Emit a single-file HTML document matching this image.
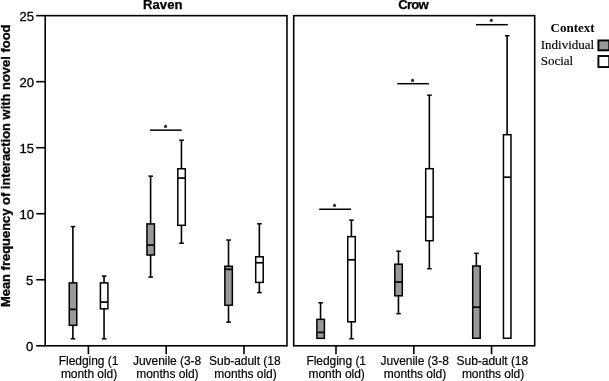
<!DOCTYPE html>
<html><head><meta charset="utf-8"><title>Figure</title>
<style>
html,body{margin:0;padding:0;background:#fff;}
svg{display:block}
text{font-family:"Liberation Sans",Arial,sans-serif;fill:#000}
.tk{font-size:12px;stroke:#000;stroke-width:0.3px}
.xl{font-size:12px;letter-spacing:-0.04px;stroke:#000;stroke-width:0.18px}
.ti{font-size:13.15px;font-weight:bold;stroke:#000;stroke-width:0.25px}
.yl{font-size:12.95px;font-weight:bold;stroke:#000;stroke-width:0.3px}
.st{font-size:8px;font-weight:bold;stroke:#000;stroke-width:0.35px}
.lt{font-family:"Liberation Serif","Times New Roman",serif;font-size:13px;font-weight:bold}
.li{font-family:"Liberation Serif","Times New Roman",serif;font-size:13px;stroke:#000;stroke-width:0.15px}
</style></head><body>
<svg width="609" height="381" viewBox="0 0 609 381">
<rect width="609" height="381" fill="#fff"/>
<rect x="45.20" y="15.66" width="241.75" height="330.12" fill="none" stroke="#000" stroke-width="1.6"/>
<rect x="293.70" y="15.66" width="241.00" height="330.12" fill="none" stroke="#000" stroke-width="1.6"/>
<line x1="36.20" y1="345.78" x2="45.20" y2="345.78" stroke="#000" stroke-width="1.6"/>
<text transform="translate(33.3,350.78) scale(1.09,1)" text-anchor="end" class="tk">0</text>
<line x1="36.20" y1="279.75" x2="45.20" y2="279.75" stroke="#000" stroke-width="1.6"/>
<text transform="translate(33.3,284.75) scale(1.09,1)" text-anchor="end" class="tk">5</text>
<line x1="36.20" y1="213.73" x2="45.20" y2="213.73" stroke="#000" stroke-width="1.6"/>
<text transform="translate(34.0,218.73) scale(1.09,1)" text-anchor="end" class="tk">10</text>
<line x1="36.20" y1="147.70" x2="45.20" y2="147.70" stroke="#000" stroke-width="1.6"/>
<text transform="translate(34.0,152.70) scale(1.09,1)" text-anchor="end" class="tk">15</text>
<line x1="36.20" y1="81.68" x2="45.20" y2="81.68" stroke="#000" stroke-width="1.6"/>
<text transform="translate(34.0,86.68) scale(1.09,1)" text-anchor="end" class="tk">20</text>
<line x1="36.20" y1="15.65" x2="45.20" y2="15.65" stroke="#000" stroke-width="1.6"/>
<text transform="translate(34.0,20.65) scale(1.09,1)" text-anchor="end" class="tk">25</text>
<line x1="88.40" y1="345.78" x2="88.40" y2="354.30" stroke="#000" stroke-width="1.6"/>
<line x1="166.20" y1="345.78" x2="166.20" y2="354.30" stroke="#000" stroke-width="1.6"/>
<line x1="244.00" y1="345.78" x2="244.00" y2="354.30" stroke="#000" stroke-width="1.6"/>
<line x1="336.00" y1="345.78" x2="336.00" y2="354.30" stroke="#000" stroke-width="1.6"/>
<line x1="413.80" y1="345.78" x2="413.80" y2="354.30" stroke="#000" stroke-width="1.6"/>
<line x1="491.55" y1="345.78" x2="491.55" y2="354.30" stroke="#000" stroke-width="1.6"/>
<text x="88.60" y="365.2" text-anchor="middle" class="xl">Fledging (1</text>
<text x="89.05" y="378.1" text-anchor="middle" class="xl">month old)</text>
<text x="167.10" y="365.2" text-anchor="middle" class="xl">Juvenile (3-8</text>
<text x="167.40" y="378.1" text-anchor="middle" class="xl">months old)</text>
<text x="244.80" y="365.2" text-anchor="middle" class="xl">Sub-adult (18</text>
<text x="245.50" y="378.1" text-anchor="middle" class="xl">months old)</text>
<text x="336.20" y="365.2" text-anchor="middle" class="xl">Fledging (1</text>
<text x="336.65" y="378.1" text-anchor="middle" class="xl">month old)</text>
<text x="414.70" y="365.2" text-anchor="middle" class="xl">Juvenile (3-8</text>
<text x="415.00" y="378.1" text-anchor="middle" class="xl">months old)</text>
<text x="492.35" y="365.2" text-anchor="middle" class="xl">Sub-adult (18</text>
<text x="493.05" y="378.1" text-anchor="middle" class="xl">months old)</text>
<line x1="72.90" y1="282.90" x2="72.90" y2="226.60" stroke="#000" stroke-width="1.6"/>
<line x1="70.70" y1="226.60" x2="75.30" y2="226.60" stroke="#000" stroke-width="1.5"/>
<line x1="72.90" y1="325.30" x2="72.90" y2="338.80" stroke="#000" stroke-width="1.6"/>
<line x1="70.70" y1="338.80" x2="75.30" y2="338.80" stroke="#000" stroke-width="1.5"/>
<rect x="69.25" y="282.90" width="7.50" height="42.40" fill="#999999" stroke="#000" stroke-width="1.5"/>
<line x1="69.25" y1="309.40" x2="76.75" y2="309.40" stroke="#000" stroke-width="1.7"/>
<line x1="104.05" y1="282.90" x2="104.05" y2="276.10" stroke="#000" stroke-width="1.6"/>
<line x1="101.85" y1="276.10" x2="106.45" y2="276.10" stroke="#000" stroke-width="1.5"/>
<line x1="104.05" y1="308.80" x2="104.05" y2="338.80" stroke="#000" stroke-width="1.6"/>
<line x1="101.85" y1="338.80" x2="106.45" y2="338.80" stroke="#000" stroke-width="1.5"/>
<rect x="100.40" y="282.90" width="7.50" height="25.90" fill="#ffffff" stroke="#000" stroke-width="1.5"/>
<line x1="100.40" y1="302.10" x2="107.90" y2="302.10" stroke="#000" stroke-width="1.7"/>
<line x1="150.60" y1="223.90" x2="150.60" y2="176.15" stroke="#000" stroke-width="1.6"/>
<line x1="148.40" y1="176.15" x2="153.00" y2="176.15" stroke="#000" stroke-width="1.5"/>
<line x1="150.60" y1="255.00" x2="150.60" y2="277.10" stroke="#000" stroke-width="1.6"/>
<line x1="148.40" y1="277.10" x2="153.00" y2="277.10" stroke="#000" stroke-width="1.5"/>
<rect x="146.95" y="223.90" width="7.50" height="31.10" fill="#999999" stroke="#000" stroke-width="1.5"/>
<line x1="146.95" y1="245.10" x2="154.45" y2="245.10" stroke="#000" stroke-width="1.7"/>
<line x1="181.45" y1="168.75" x2="181.45" y2="140.20" stroke="#000" stroke-width="1.6"/>
<line x1="179.25" y1="140.20" x2="183.85" y2="140.20" stroke="#000" stroke-width="1.5"/>
<line x1="181.45" y1="225.30" x2="181.45" y2="243.20" stroke="#000" stroke-width="1.6"/>
<line x1="179.25" y1="243.20" x2="183.85" y2="243.20" stroke="#000" stroke-width="1.5"/>
<rect x="177.80" y="168.75" width="7.50" height="56.55" fill="#ffffff" stroke="#000" stroke-width="1.5"/>
<line x1="177.80" y1="178.10" x2="185.30" y2="178.10" stroke="#000" stroke-width="1.7"/>
<line x1="228.50" y1="266.25" x2="228.50" y2="240.05" stroke="#000" stroke-width="1.6"/>
<line x1="226.30" y1="240.05" x2="230.90" y2="240.05" stroke="#000" stroke-width="1.5"/>
<line x1="228.50" y1="305.25" x2="228.50" y2="322.15" stroke="#000" stroke-width="1.6"/>
<line x1="226.30" y1="322.15" x2="230.90" y2="322.15" stroke="#000" stroke-width="1.5"/>
<rect x="224.85" y="266.25" width="7.50" height="39.00" fill="#999999" stroke="#000" stroke-width="1.5"/>
<line x1="224.85" y1="269.30" x2="232.35" y2="269.30" stroke="#000" stroke-width="1.7"/>
<line x1="259.35" y1="256.80" x2="259.35" y2="223.80" stroke="#000" stroke-width="1.6"/>
<line x1="257.15" y1="223.80" x2="261.75" y2="223.80" stroke="#000" stroke-width="1.5"/>
<line x1="259.35" y1="282.40" x2="259.35" y2="292.60" stroke="#000" stroke-width="1.6"/>
<line x1="257.15" y1="292.60" x2="261.75" y2="292.60" stroke="#000" stroke-width="1.5"/>
<rect x="255.70" y="256.80" width="7.50" height="25.60" fill="#ffffff" stroke="#000" stroke-width="1.5"/>
<line x1="255.70" y1="262.75" x2="263.20" y2="262.75" stroke="#000" stroke-width="1.7"/>
<line x1="320.55" y1="319.35" x2="320.55" y2="302.80" stroke="#000" stroke-width="1.6"/>
<line x1="318.35" y1="302.80" x2="322.95" y2="302.80" stroke="#000" stroke-width="1.5"/>
<rect x="316.90" y="319.35" width="7.50" height="19.00" fill="#999999" stroke="#000" stroke-width="1.5"/>
<line x1="316.90" y1="332.40" x2="324.40" y2="332.40" stroke="#000" stroke-width="1.7"/>
<line x1="351.40" y1="236.65" x2="351.40" y2="220.15" stroke="#000" stroke-width="1.6"/>
<line x1="349.20" y1="220.15" x2="353.80" y2="220.15" stroke="#000" stroke-width="1.5"/>
<line x1="351.40" y1="321.80" x2="351.40" y2="338.75" stroke="#000" stroke-width="1.6"/>
<line x1="349.20" y1="338.75" x2="353.80" y2="338.75" stroke="#000" stroke-width="1.5"/>
<rect x="347.75" y="236.65" width="7.50" height="85.15" fill="#ffffff" stroke="#000" stroke-width="1.5"/>
<line x1="347.75" y1="259.80" x2="355.25" y2="259.80" stroke="#000" stroke-width="1.7"/>
<line x1="398.45" y1="264.20" x2="398.45" y2="251.20" stroke="#000" stroke-width="1.6"/>
<line x1="396.25" y1="251.20" x2="400.85" y2="251.20" stroke="#000" stroke-width="1.5"/>
<line x1="398.45" y1="295.80" x2="398.45" y2="313.65" stroke="#000" stroke-width="1.6"/>
<line x1="396.25" y1="313.65" x2="400.85" y2="313.65" stroke="#000" stroke-width="1.5"/>
<rect x="394.80" y="264.20" width="7.50" height="31.60" fill="#999999" stroke="#000" stroke-width="1.5"/>
<line x1="394.80" y1="282.00" x2="402.30" y2="282.00" stroke="#000" stroke-width="1.7"/>
<line x1="429.35" y1="168.70" x2="429.35" y2="95.17" stroke="#000" stroke-width="1.6"/>
<line x1="427.15" y1="95.17" x2="431.75" y2="95.17" stroke="#000" stroke-width="1.5"/>
<line x1="429.35" y1="240.70" x2="429.35" y2="268.70" stroke="#000" stroke-width="1.6"/>
<line x1="427.15" y1="268.70" x2="431.75" y2="268.70" stroke="#000" stroke-width="1.5"/>
<rect x="425.70" y="168.70" width="7.50" height="72.00" fill="#ffffff" stroke="#000" stroke-width="1.5"/>
<line x1="425.70" y1="217.00" x2="433.20" y2="217.00" stroke="#000" stroke-width="1.7"/>
<line x1="476.35" y1="266.00" x2="476.35" y2="253.30" stroke="#000" stroke-width="1.6"/>
<line x1="474.15" y1="253.30" x2="478.75" y2="253.30" stroke="#000" stroke-width="1.5"/>
<rect x="472.70" y="266.00" width="7.50" height="72.25" fill="#999999" stroke="#000" stroke-width="1.5"/>
<line x1="472.70" y1="307.20" x2="480.20" y2="307.20" stroke="#000" stroke-width="1.7"/>
<line x1="507.10" y1="134.70" x2="507.10" y2="35.70" stroke="#000" stroke-width="1.6"/>
<line x1="504.90" y1="35.70" x2="509.50" y2="35.70" stroke="#000" stroke-width="1.5"/>
<rect x="503.45" y="134.70" width="7.50" height="203.55" fill="#ffffff" stroke="#000" stroke-width="1.5"/>
<line x1="503.45" y1="177.20" x2="510.95" y2="177.20" stroke="#000" stroke-width="1.7"/>
<line x1="150.00" y1="130.15" x2="181.70" y2="130.15" stroke="#000" stroke-width="1.5"/>
<text x="165.5" y="130.00" text-anchor="middle" class="st">*</text>
<line x1="319.20" y1="209.25" x2="351.10" y2="209.25" stroke="#000" stroke-width="1.5"/>
<text x="334.6" y="208.60" text-anchor="middle" class="st">*</text>
<line x1="397.20" y1="83.70" x2="428.90" y2="83.70" stroke="#000" stroke-width="1.5"/>
<text x="412.6" y="83.55" text-anchor="middle" class="st">*</text>
<line x1="476.00" y1="24.70" x2="507.85" y2="24.70" stroke="#000" stroke-width="1.5"/>
<text x="491.25" y="24.25" text-anchor="middle" class="st">*</text>
<text x="162.8" y="9.3" text-anchor="middle" class="ti">Raven</text>
<text x="413.1" y="9.3" text-anchor="middle" class="ti" style="letter-spacing:-0.75px">Crow</text>
<text transform="translate(9.7,165.8) rotate(-90)" text-anchor="middle" class="yl">Mean frequency of interaction with novel food</text>
<text x="572.6" y="32.3" text-anchor="middle" class="lt">Context</text>
<text x="540.7" y="49.3" class="li">Individual</text>
<text x="540.7" y="64.6" class="li">Social</text>
<rect x="598.40" y="40.45" width="10.85" height="9.85" fill="#999999" stroke="#000" stroke-width="1.9"/>
<rect x="598.40" y="56.00" width="10.85" height="11.05" fill="#ffffff" stroke="#000" stroke-width="1.9"/>
</svg>
</body></html>
